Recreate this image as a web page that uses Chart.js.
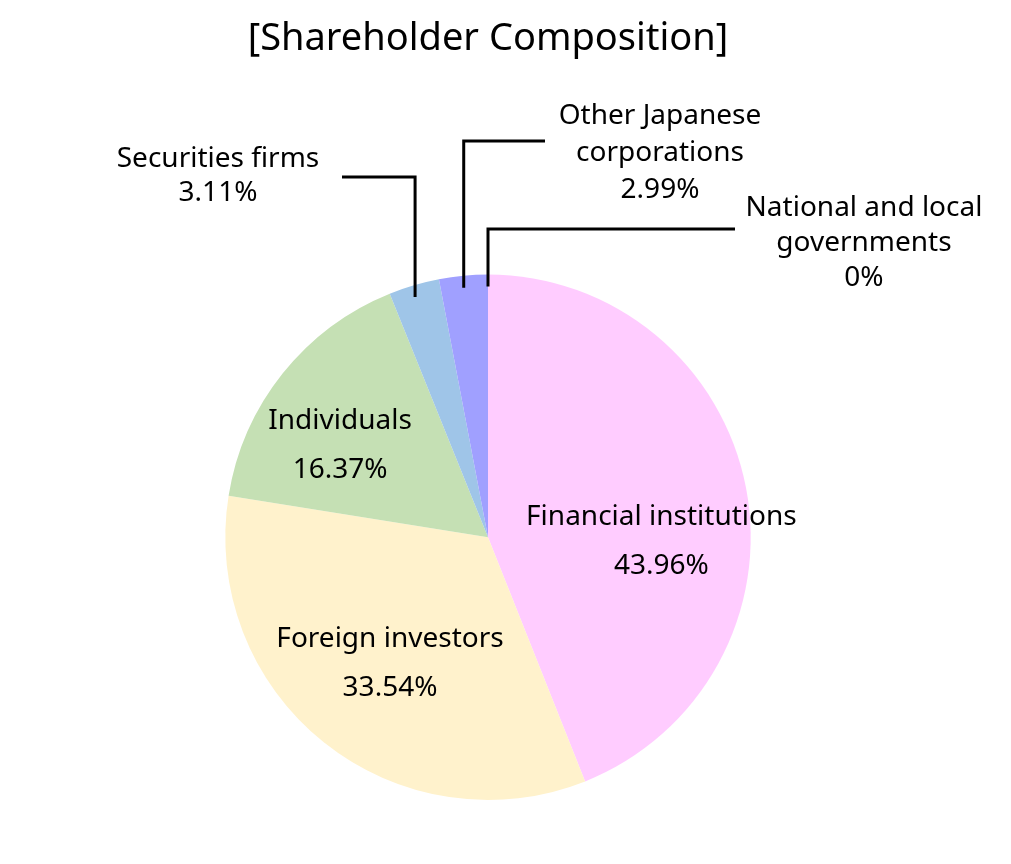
<!DOCTYPE html>
<html>
<head>
<meta charset="utf-8">
<script src="https://cdn.jsdelivr.net/npm/chart.js@4"></script>
<style>
  html, body { margin: 0; padding: 0; background: #fff; }
  #wrap { width: 1011px; height: 864px; }
</style>
</head>
<body>
<div id="wrap"><canvas id="c"></canvas></div>
<script>
// Shareholder composition pie, clockwise from 12 o'clock.
const CATEGORIES = [
  "Financial institutions",
  "Foreign investors",
  "Individuals",
  "Securities firms",
  "Other Japanese corporations",
  "National and local governments",
];
const SHARES = [43.96, 33.54, 16.37, 3.11, 2.99, 0];
const COLORS = ["#FFCCFF", "#FFF2CC", "#C5E0B4", "#9FC5E8", "#A0A0FF", "#C0C0C0"];

// Label text lines per slice (the picture wraps some names).
const LABEL_LINES = [
  ["Financial institutions"],
  ["Foreign investors"],
  ["Individuals"],
  ["Securities firms"],
  ["Other Japanese", "corporations"],
  ["National and local", "governments"],
];

const FONT = "'Noto Sans', 'Open Sans', sans-serif";

// Label placement: inside labels as offsets in units of the radius,
// outside labels with an elbow leader line (elbow y, line end x, text anchor).
const INSIDE = {
  0: { dx: 0.66, dy: 0.015 },
  1: { dx: -0.373, dy: 0.479 },
  2: { dx: -0.563, dy: -0.35 },
};
const OUTSIDE = {
  3: { elbowY: 177, endX: 342, textX: 218, textY: 176, gap: 34 },
  4: { elbowY: 141, endX: 545, textX: 660, textY: 153, gap: 37 },
  5: { elbowY: 229, endX: 735, textX: 864, textY: 243, gap: 35 },
};

const pct = (v) => `${v}%`;

function drawBlock(ctx, lines, x, cy, gap) {
  const n = lines.length;
  lines.forEach((t, k) => {
    ctx.fillText(t, x, cy + (k - (n - 1) / 2) * gap);
  });
}

const labelPlugin = {
  id: "sliceLabels",
  afterDatasetsDraw(chart) {
    const ctx = chart.ctx;
    const meta = chart.getDatasetMeta(0);
    const first = meta.data[0];
    const cx = first.x, cy = first.y, r = first.outerRadius;
    ctx.save();
    ctx.fillStyle = "#000";
    ctx.textAlign = "center";
    ctx.textBaseline = "middle";
    ctx.font = `28px ${FONT}`;

    meta.data.forEach((arc, i) => {
      const lines = [...LABEL_LINES[i], pct(SHARES[i])];
      if (INSIDE[i]) {
        const p = INSIDE[i];
        drawBlock(ctx, lines, cx + p.dx * r, cy + p.dy * r, 49);
        return;
      }
      const o = OUTSIDE[i];
      // leader line starts just inside the rim at the slice's mid angle
      const mid = (arc.startAngle + arc.endAngle) / 2;
      const sx = cx + Math.cos(mid) * r * 0.985;
      const sy = cy + Math.sin(mid) * r * 0.985 + 8;
      ctx.strokeStyle = "#000";
      ctx.lineWidth = 3;
      ctx.beginPath();
      ctx.moveTo(sx, sy);
      ctx.lineTo(sx, o.elbowY);
      ctx.lineTo(o.endX, o.elbowY);
      ctx.stroke();
      drawBlock(ctx, lines, o.textX, o.textY, o.gap);
    });
    ctx.restore();
  },
};

new Chart(document.getElementById("c"), {
  type: "pie",
  data: {
    labels: CATEGORIES,
    datasets: [{
      data: SHARES,
      backgroundColor: COLORS,
      borderWidth: 0,
    }],
  },
  options: {
    responsive: true,
    maintainAspectRatio: false,
    animation: false,
    layout: { padding: { top: 0, bottom: 64, left: 100, right: 135 } },
    plugins: {
      legend: { display: false },
      tooltip: { enabled: false },
      title: {
        display: true,
        text: "[Shareholder Composition]",
        color: "#000",
        font: { family: FONT, size: 38, weight: "normal", lineHeight: 1.2 },
        padding: { top: 16, bottom: 213 },
      },
    },
  },
  plugins: [labelPlugin],
});
</script>
</body>
</html>
